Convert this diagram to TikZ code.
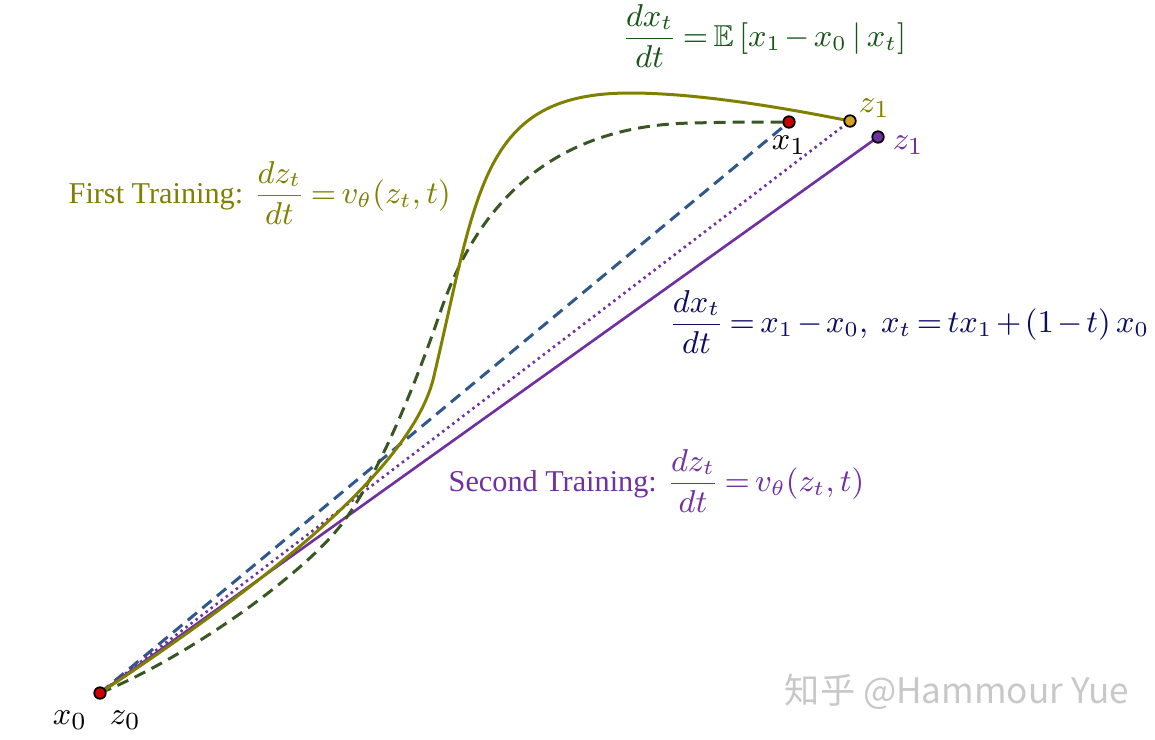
\documentclass[tikz,border=0pt]{standalone}
\usepackage{amsmath,amssymb}
\usepackage{fontspec}
\setmainfont{Liberation Serif}
\newfontfamily\cjk{Noto Sans CJK SC}
\usetikzlibrary{positioning}
\definecolor{ptred}{RGB}{204,0,0}
\definecolor{ptgold}{RGB}{212,160,40}
\definecolor{flowolive}{RGB}{128,128,0}
\definecolor{flowgreen}{RGB}{56,87,35}
\definecolor{flowblue}{RGB}{48,88,140}
\definecolor{flowpurple}{RGB}{112,48,160}
\definecolor{eqgreen}{RGB}{25,85,25}
\definecolor{eqnavy}{RGB}{12,12,100}
\definecolor{markgray}{RGB}{200,200,200}
\thickmuskip=3mu plus 1mu
\medmuskip=2mu plus 1mu
\begin{document}
\begin{tikzpicture}[x=0.01cm, y=-0.01cm,
    ptdot/.style={circle, draw=black, line width=0.5pt, inner sep=0pt, minimum size=0.115cm},
    ptlabel/.style={inner sep=1pt, font=\fontsize{9.5}{11}\selectfont},
    eqlabel/.style={inner sep=0pt, font=\fontsize{8.6}{10}\selectfont}]
    \useasboundingbox (0,0) rectangle (1155,739);
    % end points and knots
    \coordinate (x0) at (100,693);
    \coordinate (x1) at (789,122);
    \coordinate (z1a) at (850,121);
    \coordinate (z1b) at (878,137);
    \coordinate (o1) at (433,380);
    \coordinate (o2) at (630,93);
    \coordinate (g1) at (337,530);
    \coordinate (g2) at (440,313);
    \coordinate (g3) at (693,123);
    % paths
    \draw [flowblue, line width=0.85pt, dash pattern=on 3.4pt off 2pt] (x0) -- (x1);
    \draw [flowpurple, line width=0.75pt, dash pattern=on 0.7pt off 1.1pt] (x0) -- (z1a);
    \draw [flowpurple, line width=0.75pt] (x0) -- (z1b);
    \draw [flowgreen, line width=0.85pt, dash pattern=on 3.4pt off 2pt]
        (x0) .. controls (190,656) and (297,578) .. (g1)
             .. controls (372,488) and (410,400) .. (g2)
             .. controls (480,195) and (560,125) .. (g3)
             .. controls (730,122) and (760,122) .. (x1);
    \draw [flowolive, line width=0.85pt]
        (x0) .. controls (250,593) and (408,475) .. (o1)
             .. controls (478,191) and (480,93) .. (o2)
             .. controls (700,93) and (790,109) .. (z1a);
    % points
    \node [ptdot, fill=ptred] (x0dot) at (x0) {};
    \node [ptdot, fill=ptred] (x1dot) at (x1) {};
    \node [ptdot, fill=ptgold] (z1adot) at (z1a) {};
    \node [ptdot, fill=flowpurple] (z1bdot) at (z1b) {};
    % point labels
    \node [ptlabel, below left=0.085cm and 0.04cm of x0dot] (x0lbl) {$x_0$};
    \node [ptlabel, below right=0.085cm and 0.01cm of x0dot] (z0lbl) {$z_0$};
    \node [ptlabel, below=0.03cm of x1dot] (x1lbl) {$x_1$};
    \node [ptlabel, flowolive, above right=-0.05cm and 0cm of z1adot] (z1albl) {$z_1$};
    \node [ptlabel, flowpurple, right=0.04cm of z1bdot, yshift=-0.08cm] (z1blbl) {$z_1$};
    % equations
    \node [eqlabel, eqgreen] (condeq) at (764,36)
        {$\dfrac{dx_t}{dt}=\mathbb{E}\,[x_1-x_0\,|\,x_t]$};
    \node [eqlabel, flowolive, anchor=west] (firsteq) at (68,193)
        {First Training: $\dfrac{dz_t}{dt}=v_\theta(z_t,t)$};
    \node [eqlabel, eqnavy, anchor=east] (lineeq) at (1150,322)
        {$\dfrac{dx_t}{dt}=x_1-x_0,\ x_t=tx_1+(1-t)\,x_0$};
    \node [eqlabel, flowpurple, anchor=west] (secondeq) at (448,481)
        {Second Training: $\dfrac{dz_t}{dt}=v_\theta(z_t,t)$};
    % watermark
    \node [markgray, inner sep=0pt, font=\cjk\fontsize{10}{12}\selectfont] (mark) at (957,692)
        {知乎 @Hammour Yue};
\end{tikzpicture}
\end{document}
